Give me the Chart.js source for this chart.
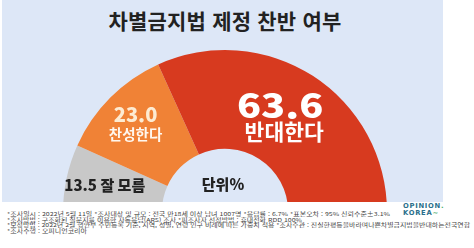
<!DOCTYPE html>
<html lang="ko">
<head>
<meta charset="utf-8">
<script src="https://cdn.jsdelivr.net/npm/chart.js@4.4.1/dist/chart.umd.min.js"></script>
<style>
  html, body { margin: 0; padding: 0; background: #ffffff; }
  body { width: 474px; height: 248px; position: relative; overflow: hidden; font-family: "Noto Sans CJK KR", "Noto Sans", sans-serif; }
  #panel { position: absolute; left: 2px; top: 0; width: 441px; height: 202px; background: #dde7f7; overflow: hidden; }
  #title { position: absolute; left: 0; width: 446px; top: 5px; text-align: center; font-size: 21px; font-weight: 700; color: #222222; letter-spacing: 0.2px; }
  #chartWrap { position: absolute; left: -2px; top: 0; width: 443px; height: 212px; }
  #footer { position: absolute; left: 7px; top: 212px; font-size: 5.4px; line-height: 5.6px; color: #444444; white-space: nowrap; }
  #footer div { transform-origin: 0 0; display: block; width: max-content; height: 5.6px; }
  #logo { position: absolute; left: 403px; top: 203px; font-family: "DejaVu Sans", sans-serif; font-weight: 700; font-size: 6.8px; line-height: 6.8px; color: #2a6f8c; letter-spacing: 0.7px; }
  #logo .dot { color: #4cae6b; }
</style>
</head>
<body>
<div id="panel">
  <div id="title"></div>
  <div id="chartWrap"><canvas id="c" width="443" height="212"></canvas></div>
</div>
<div id="footer"></div>
<div id="logo">OPINION<span class="dot">.</span><br>KOREA<span class="dot">~</span></div>
<script>
// ---- data ----
const titleText = "차별금지법 제정 찬반 여부";
const categories = ["잘 모름", "찬성한다", "반대한다"];
const values = [13.5, 23.0, 63.6];
const colors = ["#c8c8c8", "#f08236", "#d73a1f"];
const centerNote = "단위%";
const footerLines = [
  "*조사일시 : 2022년 5월 11일  *조사대상 및 규모 : 전국 만18세 이상 남녀 1007명 *응답률 : 6.7%  *표본오차 : 95% 신뢰수준±3.1%",
  "*조사방법 : 구조화된 질문지를 이용한 자동응답(ARS) 조사 *피조사자 선정방법 : 휴대전화 RDD 100%",
  "*보정방법 : 2022년 2월 행안부 주민등록 기준, 지역, 성별, 연령 인구 비례에 따른 가중치 적용  *조사주관 : 진실한평등을바라며나쁜차별금지법을반대하는전국연합",
  "*조사수행 : 오피니언코리아"
];
const footerWidths = [383, 295, 463, 80];

document.getElementById('title').textContent = titleText;
const footer = document.getElementById('footer');
footerLines.forEach((t, i) => {
  const d = document.createElement('div');
  d.textContent = t;
  footer.appendChild(d);
  const w = d.getBoundingClientRect().width;
  d.style.transform = 'scaleX(' + (footerWidths[i] / w) + ')';
});

const FONT = '"Noto Sans CJK KR", "Noto Sans", sans-serif';

const labelPlugin = {
  id: 'labels',
  afterDatasetsDraw(chart) {
    const ctx = chart.ctx;
    const arcs = chart.getDatasetMeta(0).data;
    const pos = (arc, r) => {
      const a = (arc.startAngle + arc.endAngle) / 2;
      return { x: arc.x + Math.cos(a) * r, y: arc.y + Math.sin(a) * r };
    };
    const draw = (text, x, y, size, color, sx, weight) => {
      ctx.save();
      ctx.translate(x, y);
      ctx.scale(sx || 1, 1);
      ctx.font = (weight || 700) + ' ' + size + 'px ' + FONT;
      ctx.fillStyle = color;
      ctx.textAlign = 'center';
      ctx.textBaseline = 'middle';
      ctx.fillText(text, 0, 0);
      ctx.restore();
    };
    // gray
    let p = pos(arcs[0], 123);
    draw(values[0].toFixed(1) + ' ' + categories[0], p.x, p.y - 1, 15, '#222222', 1, 800);
    // orange
    p = pos(arcs[1], 125);
    draw(values[1].toFixed(1), p.x - 1, p.y - 9, 20, '#fdebd2', 1, 800);
    draw(categories[1], p.x - 1, p.y + 11, 14.5, '#fff7ee', 1, 700);
    // red
    p = pos(arcs[2], 111);
    draw(values[2].toFixed(1), p.x - 5, p.y - 13, 33, '#ffffff', 1.2, 900);
    draw(categories[2], p.x - 1, p.y + 13, 21.5, '#ffffff', 1, 700);
    // center note
    const a0 = arcs[0];
    draw(centerNote, a0.x - 2, a0.y - 28, 15, '#222222', 1, 800);
  }
};

new Chart(document.getElementById('c'), {
  type: 'doughnut',
  data: {
    labels: categories,
    datasets: [{
      data: values,
      backgroundColor: colors,
      borderWidth: 0
    }]
  },
  options: {
    responsive: false,
    animation: false,
    rotation: -90,
    circumference: 180,
    cutout: '39%',
    layout: { padding: { left: 63, right: 56, top: 50, bottom: 0 } },
    plugins: { legend: { display: false }, tooltip: { enabled: false } },
    events: []
  },
  plugins: [labelPlugin]
});
</script>
</body>
</html>
